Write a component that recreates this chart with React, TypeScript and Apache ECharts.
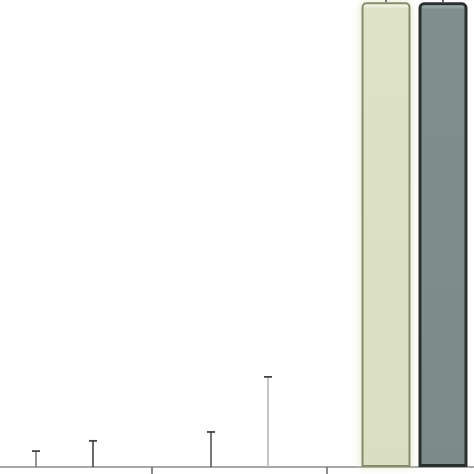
import { useEffect, useRef } from 'react';
import * as echarts from 'echarts';

const categories = ['A', 'B', 'C'];
const seriesNames = ['Control', 'Treated'];
const lightValues = [0, 0, 99.5];
const darkValues = [0, 0, 99.5];
const lightErrors = [3.4, 7.5, 4];
const darkErrors = [5.6, 19.3, 4];

const stemColors = [
    ['#7a7a7a', '#555555', '#555555'],
    ['#444444', '#b8b8b8', '#444444'],
];

const BAR_OFFSET = 28.5 / 175;

// zero-height bars would still draw their border, so leave them empty
const barData = (values: number[]) => values.map(v => (v === 0 ? '-' : v));

function errorSeries(values: number[], errors: number[], side: number, colors: string[]) {
    return {
        type: 'custom',
        clip: false,
        z: 10,
        data: values.map((v, i) => [i, v, v + errors[i]]),
        renderItem: (params: any, api: any) => {
            const idx = api.value(0);
            const band = api.size([1, 0])[0];
            const lo = api.coord([idx, api.value(1)]);
            const hi = api.coord([idx, api.value(2)]);
            const x = lo[0] + side * band * BAR_OFFSET;
            const color = colors[params.dataIndex];
            return {
                type: 'group',
                children: [
                    {type: 'line', shape: {x1: x, y1: lo[1], x2: x, y2: hi[1]}, style: {stroke: color, lineWidth: 1.6}},
                    {type: 'line', shape: {x1: x - 4, y1: hi[1], x2: x + 4, y2: hi[1]}, style: {stroke: '#444', lineWidth: 1.8}},
                ],
            };
        },
    };
}

export default function App() {
    const ref = useRef<HTMLDivElement>(null);

    useEffect(() => {
        if (!ref.current) return;
        const chart = echarts.init(ref.current, null, {renderer: 'svg'});
        chart.setOption({
            animation: false,
            grid: {left: 0, right: 0, top: 0, bottom: 7},
            xAxis: {
                type: 'category',
                data: categories,
                axisLine: {lineStyle: {color: '#8a8a8a', width: 1.5}},
                axisTick: {show: true, length: 7, lineStyle: {color: '#666', width: 1.5}},
                axisLabel: {show: false},
            },
            yAxis: {type: 'value', min: 0, max: 100, show: false, splitLine: {show: false}},
            series: [
                {
                    name: seriesNames[0],
                    type: 'bar',
                    data: barData(lightValues),
                    barWidth: '28%',
                    barGap: '16.3%',
                    itemStyle: {
                        color: new echarts.graphic.LinearGradient(0, 0, 0, 1, [
                            {offset: 0, color: '#fafaf0'},
                            {offset: 0.012, color: '#dee2c6'},
                            {offset: 1, color: '#d9dfc0'},
                        ]),
                        borderColor: '#858a6c',
                        borderWidth: 2,
                        borderRadius: [4, 4, 0, 0],
                        shadowColor: 'rgba(215,215,170,0.7)',
                        shadowBlur: 10,
                    },
                },
                {
                    name: seriesNames[1],
                    type: 'bar',
                    data: barData(darkValues),
                    barWidth: '28%',
                    itemStyle: {
                        color: new echarts.graphic.LinearGradient(0, 0, 0, 1, [
                            {offset: 0, color: '#b0bcba'},
                            {offset: 0.012, color: '#808f8c'},
                            {offset: 1, color: '#7c8b88'},
                        ]),
                        borderColor: '#2a3030',
                        borderWidth: 3,
                        borderRadius: [4, 4, 0, 0],
                    },
                },
                errorSeries(lightValues, lightErrors, -1, stemColors[0]),
                errorSeries(darkValues, darkErrors, 1, stemColors[1]),
            ],
        });
        return () => chart.dispose();
    }, []);

    return (
        <div style={{position: 'absolute', left: 0, top: 0, width: 474, height: 474, overflow: 'hidden', background: '#fff'}}>
            <div ref={ref} style={{position: 'absolute', left: -23, top: 0, width: 525, height: 474}}/>
        </div>
    );
}
